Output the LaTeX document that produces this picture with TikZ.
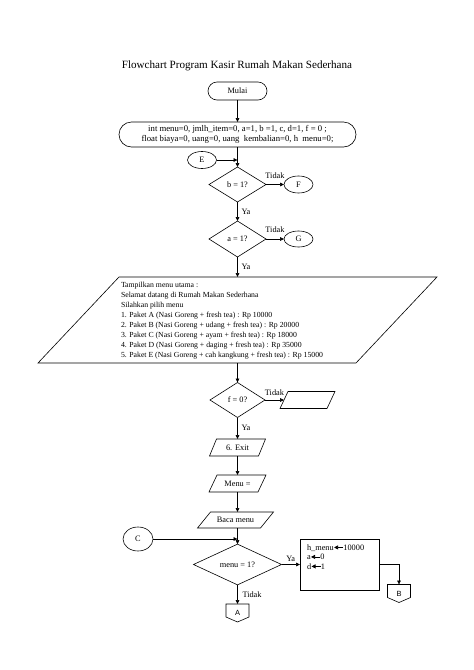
\documentclass[tikz,border=0pt]{standalone}
\usepackage{fontspec}
\setmainfont{Liberation Serif}
\newfontfamily\sansA{Liberation Sans}
\usetikzlibrary{arrows.meta,shapes.geometric,calc}
\newcommand{\myarr}{\tikz[baseline=-0.75ex]\draw[line width=0.7pt,-{Triangle[length=4pt,width=4pt]}] (9pt,0pt) -- (0pt,0pt);}
\begin{document}
\begin{tikzpicture}[x=1pt,y=-1pt,
  line width=0.6pt,
  every node/.style={font=\fontsize{8.3}{10}\selectfont, inner sep=0pt, outer sep=0pt},
  arr/.style={-{Triangle[length=4pt,width=3.6pt]}},
  term/.style={draw, rounded corners=9pt, minimum width=59pt, minimum height=18pt},
  initbox/.style={draw, rounded corners=12.5pt, minimum width=237pt, minimum height=25pt, align=center, font=\fontsize{8.7}{9.5}\selectfont},
  dec/.style={draw, diamond, minimum width=#1, minimum height=35pt},
  conn/.style={draw, ellipse, minimum width=29pt, minimum height=17pt},
  iobox/.style={rectangle, minimum height=17pt},
  offp/.style={minimum width=23pt, minimum height=18pt, font=\sansA\fontsize{7.5}{9}\selectfont},
  lbl/.style={inner sep=1pt}
]
\fill[white] (0,0) rectangle (474,670);
\path[use as bounding box] (0,0) rectangle (474,670);

\node[font=\fontsize{11.1}{14}\selectfont] (title) at (237,66) {Flowchart Program Kasir Rumah Makan Sederhana};
\node[term] (start) at (237.5,91) {Mulai};
\node[initbox] (init) at (237.5,134.5) {int menu=0, jmlh\_item=0, a=1, b =1, c, d=1, f = 0 ;\\float biaya=0, uang=0, uang\ \ kembalian=0, h\ \ menu=0;};
\node[conn] (E) at (202,160) {E};
\node[dec=57pt] (b) at (237.5,184.5) {b = 1?};
\node[conn] (F) at (298.5,184.5) {F};
\node[dec=57pt, minimum height=36pt] (a) at (237.5,239) {a = 1?};
\node[conn, minimum height=16pt] (G) at (298.5,239) {G};
\node[iobox, minimum width=399pt, minimum height=86pt] (menu) at (237.5,320) {};
\node[anchor=west, align=left, font=\fontsize{7.75}{10}\selectfont] (menutxt) at (121,321) {Tampilkan menu utama :\\
Selamat datang di Rumah Makan Sederhana\\
Silahkan pilih menu\\
1. Paket A (Nasi Goreng + fresh tea) : Rp 10000\\
2. Paket B (Nasi Goreng + udang + fresh tea) : Rp 20000\\
3. Paket C (Nasi Goreng + ayam + fresh tea) : Rp 18000\\
4. Paket D (Nasi Goreng + daging + fresh tea) : Rp 35000\\
5. Paket E (Nasi Goreng + cah kangkung + fresh tea) : Rp 15000};
\node[dec=55pt] (f) at (237.5,400) {f = 0?};
\node[iobox, minimum width=55pt] (side) at (307.5,400) {};
\node[iobox, minimum width=56pt] (exit) at (237.5,447.5) {6. Exit};
\node[iobox, minimum width=57pt] (minp) at (237.5,483.5) {Menu =};
\node[iobox, minimum width=76pt, minimum height=16pt] (baca) at (235.5,520) {Baca menu};
\node[conn, minimum width=30pt, minimum height=24pt] (C) at (138,539) {C};
\node[dec=88pt] (m1) at (237.5,564.5) {menu = 1?};
\node[draw, minimum width=79pt, minimum height=51pt] (box) at (339.5,564.5) {};
\node[anchor=north west, align=left, font=\fontsize{8.3}{9.5}\selectfont] (boxtxt) at (307,544.5) {h\_menu\myarr10000\\a\myarr0\\d\myarr1};
\node[offp] (B) at (399,593.5) {B};
\node[offp] (A) at (237.5,613) {A};

% parallelogram outlines
\foreach \n/\s in {menu/81, side/8, exit/7, minp/8, baca/13}
  \draw ([xshift=\s pt]\n.north west) -- (\n.north east) -- ([xshift=-\s pt]\n.south east) -- (\n.south west) -- cycle;
% off-page connectors
\foreach \n in {A,B}
  \draw (\n.north west) -- (\n.north east) -- ([yshift=5pt]\n.south east) -- (\n.south) -- ([yshift=5pt]\n.south west) -- cycle;

% connectors
\draw[arr] (start.south) -- (init.north);
\draw[arr] (init.south) -- (b.north);
\draw[arr] (E.east) -- (E.east -| b.north);
\draw[arr] (b.east) -- node[lbl, above=5pt]{Tidak} (F.west);
\draw[arr] (b.south) -- node[lbl, right=3pt]{Ya} (a.north);
\draw[arr] (a.east) -- node[lbl, above=5pt]{Tidak} (G.west);
\draw[arr] (a.south) -- node[lbl, right=3pt]{Ya} (a.south |- menu.north);
\draw[arr] (f.north |- menu.south) -- (f.north);
\draw[arr] (f.east) -- node[lbl, above=3pt]{Tidak} ([xshift=4pt]side.west);
\draw[arr] (f.south) -- node[lbl, right=3pt]{Ya} (exit.north);
\draw[arr] (exit.south) -- (minp.north);
\draw[arr] (minp.south) -- (minp.south |- baca.north);
\draw[arr] (m1.north |- baca.south) -- (m1.north);
\coordinate (jC) at (C.east -| m1.north);
\draw[arr] (C.east) -- (jC);
\draw[arr] (m1.east) -- node[lbl, above=2pt]{Ya} (box.west);
\draw[arr] (box.east) -| (B.north);
\draw[arr] (m1.south) -- node[lbl, right=4pt]{Tidak} (A.north);
\end{tikzpicture}
\end{document}
